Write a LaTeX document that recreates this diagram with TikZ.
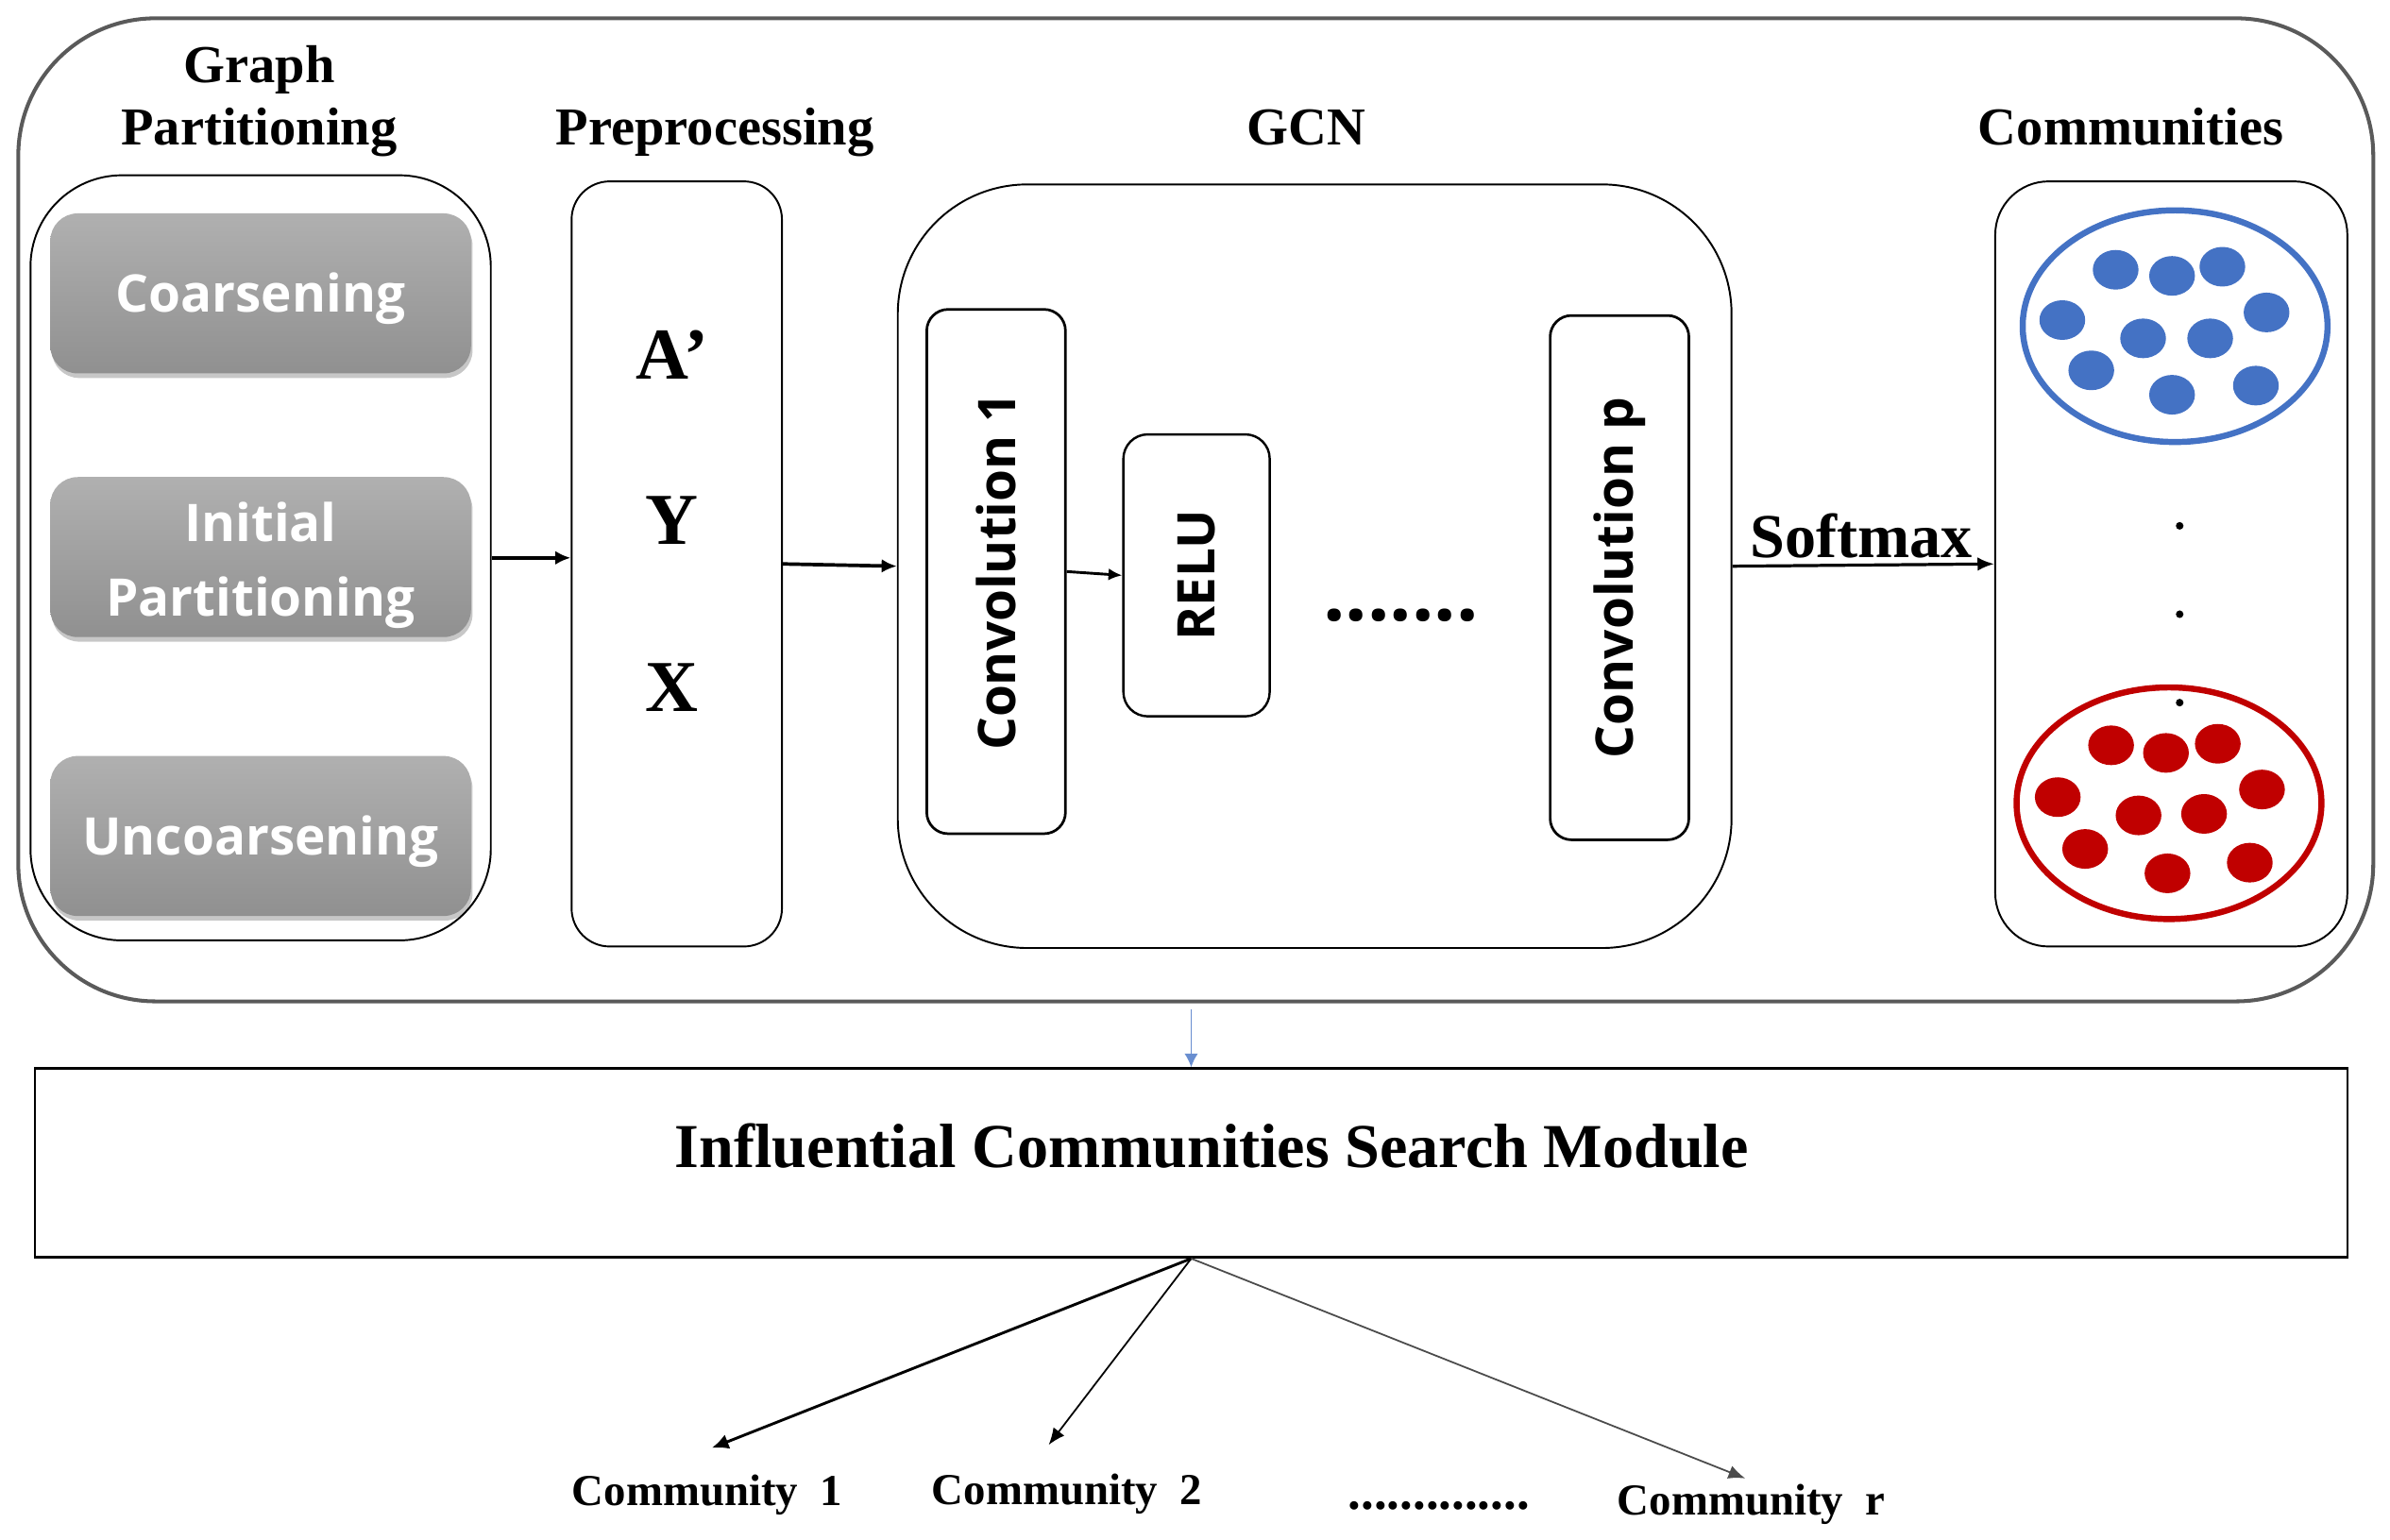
\documentclass[tikz,border=0pt]{standalone}
\usepackage{fontspec}
\setmainfont{Liberation Serif}
\newfontfamily\osans{Open Sans}
\usetikzlibrary{arrows.meta,shapes.geometric,shadows}
\definecolor{outergray}{RGB}{90,90,90}
\definecolor{btntop}{RGB}{176,176,176}
\definecolor{btnbot}{RGB}{144,144,144}
\definecolor{cblue}{RGB}{68,114,196}
\definecolor{cred}{RGB}{192,0,0}
\tikzset{
  box/.style={draw=black, line width=1.2pt, inner sep=0pt, rectangle},
  btn/.style={rectangle, rounded corners=18pt, minimum width=276pt, minimum height=105pt,
    top color=btntop, bottom color=btnbot, draw=none,
    drop shadow={shadow xshift=1pt, shadow yshift=-3pt, opacity=.22, fill=black}},
  btntext/.style={text=white, align=center, inner sep=0pt,
    font=\osans\bfseries\fontsize{34}{49}\selectfont},
  conv/.style={draw=black, line width=1.7pt, rectangle, rounded corners=14pt, inner sep=0pt},
  convtext/.style={font=\osans\bfseries\fontsize{34}{40}\selectfont, rotate=90, inner sep=0pt},
  title/.style={font=\bfseries\fontsize{35}{41}\selectfont, anchor=base, inner sep=0pt},
  letter/.style={font=\bfseries\fontsize{48}{50}\selectfont, anchor=base, inner sep=0pt},
  comlab/.style={font=\bfseries\fontsize{29}{32}\selectfont, anchor=base, inner sep=0pt},
  arr/.style={-{Latex[length=10pt,width=9pt]}, line width=2.3pt},
  bdot/.style={ellipse, fill=cblue, minimum width=30pt, minimum height=26pt, inner sep=0pt},
  rdot/.style={ellipse, fill=cred, minimum width=30pt, minimum height=26pt, inner sep=0pt},
}
\begin{document}
\begin{tikzpicture}[x=1pt,y=-1pt]
\useasboundingbox (0,0) rectangle (1568,1010.4);
% outer frame
\node[box, draw=outergray, line width=2.5pt, rounded corners=90pt,
  minimum width=1545pt, minimum height=645pt] (outer) at (784.5,334.5) {};
% titles
\node[title] (tg) at (170,54) {Graph};
\node[title] (tp) at (170,95) {Partitioning};
\node[title] (tpre) at (469,95) {Preprocessing};
\node[title] (tgcn) at (857,95) {GCN};
\node[title] (tcom) at (1398,95) {Communities};
% graph partitioning
\node[box, rounded corners=60pt, minimum width=302pt, minimum height=502pt] (lb) at (171,366) {};
\node[btn] (coarse) at (171,192.5) {};
\node[btn] (init) at (171,365.5) {};
\node[btn] (uncoarse) at (171,548.5) {};
\node[btntext, anchor=base] (coarset) at (171,205) {Coarsening};
\node[btntext, anchor=base] (initt1) at (171,355) {Initial};
\node[btntext, anchor=base] (initt2) at (171,404) {Partitioning};
\node[btntext, anchor=base] (uncoarset) at (171,561) {Uncoarsening};
% preprocessing
\node[box, rounded corners=25pt, minimum width=138pt, minimum height=502pt] (pre) at (444,370) {};
\node[letter] (la) at (441,249) {A’};
\node[letter] (ly) at (441,357) {Y};
\node[letter] (lx) at (441,467) {X};
% GCN
\node[box, rounded corners=85pt, minimum width=547pt, minimum height=501pt] (gcn) at (862.5,371.5) {};
\node[conv, minimum width=91pt, minimum height=344pt] (conv1) at (653.5,375) {};
\node[convtext] (conv1t) at (conv1) {Convolution 1};
\node[conv, line width=1.5pt, rounded corners=16pt, minimum width=96pt, minimum height=185pt] (relu) at (785,377.5) {};
\node[convtext] (relut) at (relu) {RELU};
\node[conv, minimum width=91pt, minimum height=344pt] (convp) at (1062.5,379) {};
\node[convtext] (convpt) at (convp) {Convolution p};
\node[font=\osans\bfseries\fontsize{51}{54}\selectfont, inner sep=0pt] (gdots) at (919,404) {.......};
% communities
\node[box, rounded corners=35pt, minimum width=231pt, minimum height=502pt] (comm) at (1424.5,370) {};
\node[ellipse, draw=cblue, line width=4pt, minimum width=200pt, minimum height=152pt] (bluec) at (1427,214) {};
\node[ellipse, draw=cred, line width=4pt, minimum width=200pt, minimum height=152pt] (redc) at (1423,527) {};
\foreach \x/\y [count=\i] in {1388/177,1425/181,1458/175,1353/210,1406/222,1450/222,1487/205,1372/243,1425/259,1480/253}
  \node[bdot] (b\i) at (\x,\y) {};
\foreach \x/\y [count=\i] in {1385/489,1421/494,1455/488,1350/523,1403/535,1446/534,1484/518,1368/557,1422/573,1476/566}
  \node[rdot] (r\i) at (\x,\y) {};
\foreach \y [count=\i] in {345,403,461}
  \node[circle, fill=black, minimum size=5pt, inner sep=0pt] (vd\i) at (1430,\y) {};
% arrows in top panel
\draw[arr] (lb.east) -- (lb.east -| pre.west);
\draw[arr] (pre.east) -- (gcn.west);
\draw[arr, line width=1.8pt, -{Latex[length=9pt,width=8pt]}] (conv1.east) -- (relu.west);
\draw[arr, line width=2pt, -{Latex[length=11pt,width=9pt]}] (gcn.east) -- (comm.west);
\node[font=\bfseries\fontsize{41}{44}\selectfont, anchor=base, inner sep=0pt] (soft) at (1221,366) {Softmax};
% module
\node[box, line width=1.5pt, minimum width=1517pt, minimum height=124pt] (icsm) at (781.5,763) {};
\node[font=\bfseries\fontsize{41}{44}\selectfont, anchor=base, inner sep=0pt] (icsmt) at (795,766) {Influential Communities Search Module};
\draw[-{Latex[length=9pt,width=9pt]}, draw=cblue!80, line width=1.2pt, fill=cblue] ([yshift=-4pt]outer.south -| icsm.north) -- (icsm.north);
% outputs
\node[comlab] (c1) at (464,988) {Community\ \ 1};
\node[comlab] (c2) at (700,987) {Community\ \ 2};
\node[comlab, font=\bfseries\fontsize{34}{36}\selectfont] (cd) at (944,990) {..............};
\node[comlab] (cr) at (1149,994) {Community\ \ r};
\coordinate (e1) at (467,950);
\coordinate (e2) at (688,948);
\coordinate (e3) at (1145,970);
\draw[-{Latex[length=11pt,width=10pt]}, line width=1.8pt] (icsm.south) -- (e1);
\draw[-{Latex[length=11pt,width=9pt]}, line width=1.1pt] (icsm.south) -- (e2);
\draw[-{Latex[length=11pt,width=9pt]}, line width=1.1pt, draw=black!70, fill=black] (icsm.south) -- (e3);
\end{tikzpicture}
\end{document}
